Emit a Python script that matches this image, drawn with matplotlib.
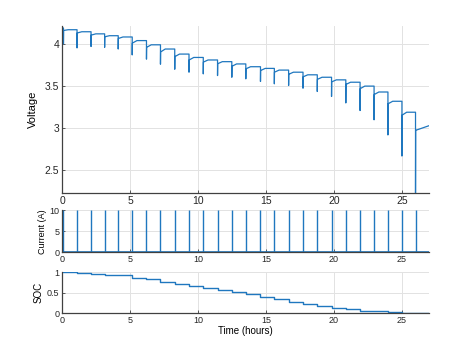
import numpy as np
import matplotlib
matplotlib.use("Agg")
import matplotlib.pyplot as plt
from matplotlib.ticker import FuncFormatter

plt.rcParams['font.family'] = ['Liberation Sans', 'DejaVu Sans']

# pulse times (hours)
pulse_t = [0.10, 1.10, 2.13, 3.13, 4.13, 5.16, 6.21, 7.24, 8.29, 9.34,
           10.39, 11.44, 12.49, 13.52, 14.60, 15.62, 16.67, 17.73, 18.78,
           19.83, 20.88, 21.93, 22.96, 23.98, 25.01, 26.01]
pulse_amp = [10] * 26

# voltage just before each pulse, at the bottom of the pulse, right after it
v_rest = [4.19, 4.169, 4.145, 4.12, 4.098, 4.083, 4.04, 3.99, 3.94, 3.88,
          3.84, 3.81, 3.79, 3.763, 3.73, 3.71, 3.69, 3.665, 3.634, 3.605,
          3.574, 3.546, 3.50, 3.43, 3.32, 3.19]
v_min = [4.00, 3.953, 3.97, 3.96, 3.94, 3.87, 3.82, 3.76, 3.70, 3.665,
         3.645, 3.625, 3.605, 3.586, 3.555, 3.527, 3.507, 3.475, 3.436, 3.377,
         3.30, 3.21, 3.10, 2.92, 2.67, 2.20]
v_after = [4.16, 4.13, 4.105, 4.085, 4.065, 4.01, 3.96, 3.905, 3.85, 3.81,
           3.785, 3.765, 3.735, 3.705, 3.685, 3.665, 3.64, 3.61, 3.58, 3.55,
           3.52, 3.47, 3.40, 3.29, 3.155, 2.975]
v_end = 3.03
t_end = 27.0

# state of charge after each pulse
soc_start = 1.0
soc_after = [0.995, 0.98, 0.965, 0.945, 0.925, 0.87, 0.825, 0.76, 0.715, 0.665,
             0.625, 0.58, 0.52, 0.465, 0.40, 0.34, 0.28, 0.225, 0.18, 0.135,
             0.095, 0.065, 0.045, 0.025, 0.01, 0.0]

blue = '#1f77bf'
axcol = '#404040'
gridcol = '#e2e2e2'

# assemble voltage trace
vt, vv = [0.0], [v_rest[0]]
for i, tp in enumerate(pulse_t):
    vt += [tp, tp, tp + 0.01]
    vv += [v_rest[i], v_min[i], v_after[i]]
    if i + 1 < len(pulse_t):
        vt += [tp + 0.35]
        vv += [v_rest[i + 1]]
vt.append(t_end)
vv.append(v_end)

fig = plt.figure(figsize=(4.74, 3.55), dpi=100)
ax1 = fig.add_axes([0.131, 0.456, 0.774, 0.470])
ax2 = fig.add_axes([0.131, 0.289, 0.774, 0.119])
ax3 = fig.add_axes([0.131, 0.1175, 0.774, 0.1155])

fmt = FuncFormatter(lambda x, p: ('%g' % x))


def style(ax, fs):
    ax.set_xlim(0, 27)
    ax.set_xticks([0, 5, 10, 15, 20, 25])
    ax.grid(True, color=gridcol, lw=0.7)
    ax.set_axisbelow(True)
    for s in ['top', 'right']:
        ax.spines[s].set_visible(False)
    for s in ['left', 'bottom']:
        ax.spines[s].set_color(axcol)
        ax.spines[s].set_linewidth(0.9)
    ax.tick_params(direction='in', length=2.5, width=0.6, colors=axcol,
                   labelsize=fs, pad=2, labelcolor='#262626')
    ax.yaxis.set_major_formatter(fmt)


ax1.plot(vt, vv, color=blue, lw=0.9)
ax1.set_ylim(2.23, 4.21)
ax1.set_yticks([2.5, 3, 3.5, 4])
style(ax1, 7.5)
ax1.set_ylabel('Voltage', fontsize=8, labelpad=5)

ax2.vlines(pulse_t, 0, pulse_amp, color=blue, lw=1.0)
ax2.plot([0, t_end], [0, 0], color=blue, lw=1.2)
ax2.set_ylim(0, 10)
ax2.set_yticks([0, 5, 10])
style(ax2, 6.5)
ax2.set_ylabel('Current (A)', fontsize=6.5, labelpad=2)

ax3.step([0.0] + pulse_t + [t_end], [soc_start] + soc_after + [soc_after[-1]],
         where='post', color=blue, lw=1.0)
ax3.set_ylim(0, 1)
ax3.set_yticks([0, 0.5, 1])
style(ax3, 6.5)
ax3.set_ylabel('SOC', fontsize=7, labelpad=2)
ax3.set_xlabel('Time (hours)', fontsize=7, labelpad=1)

fig.savefig('out.png', dpi=100)
